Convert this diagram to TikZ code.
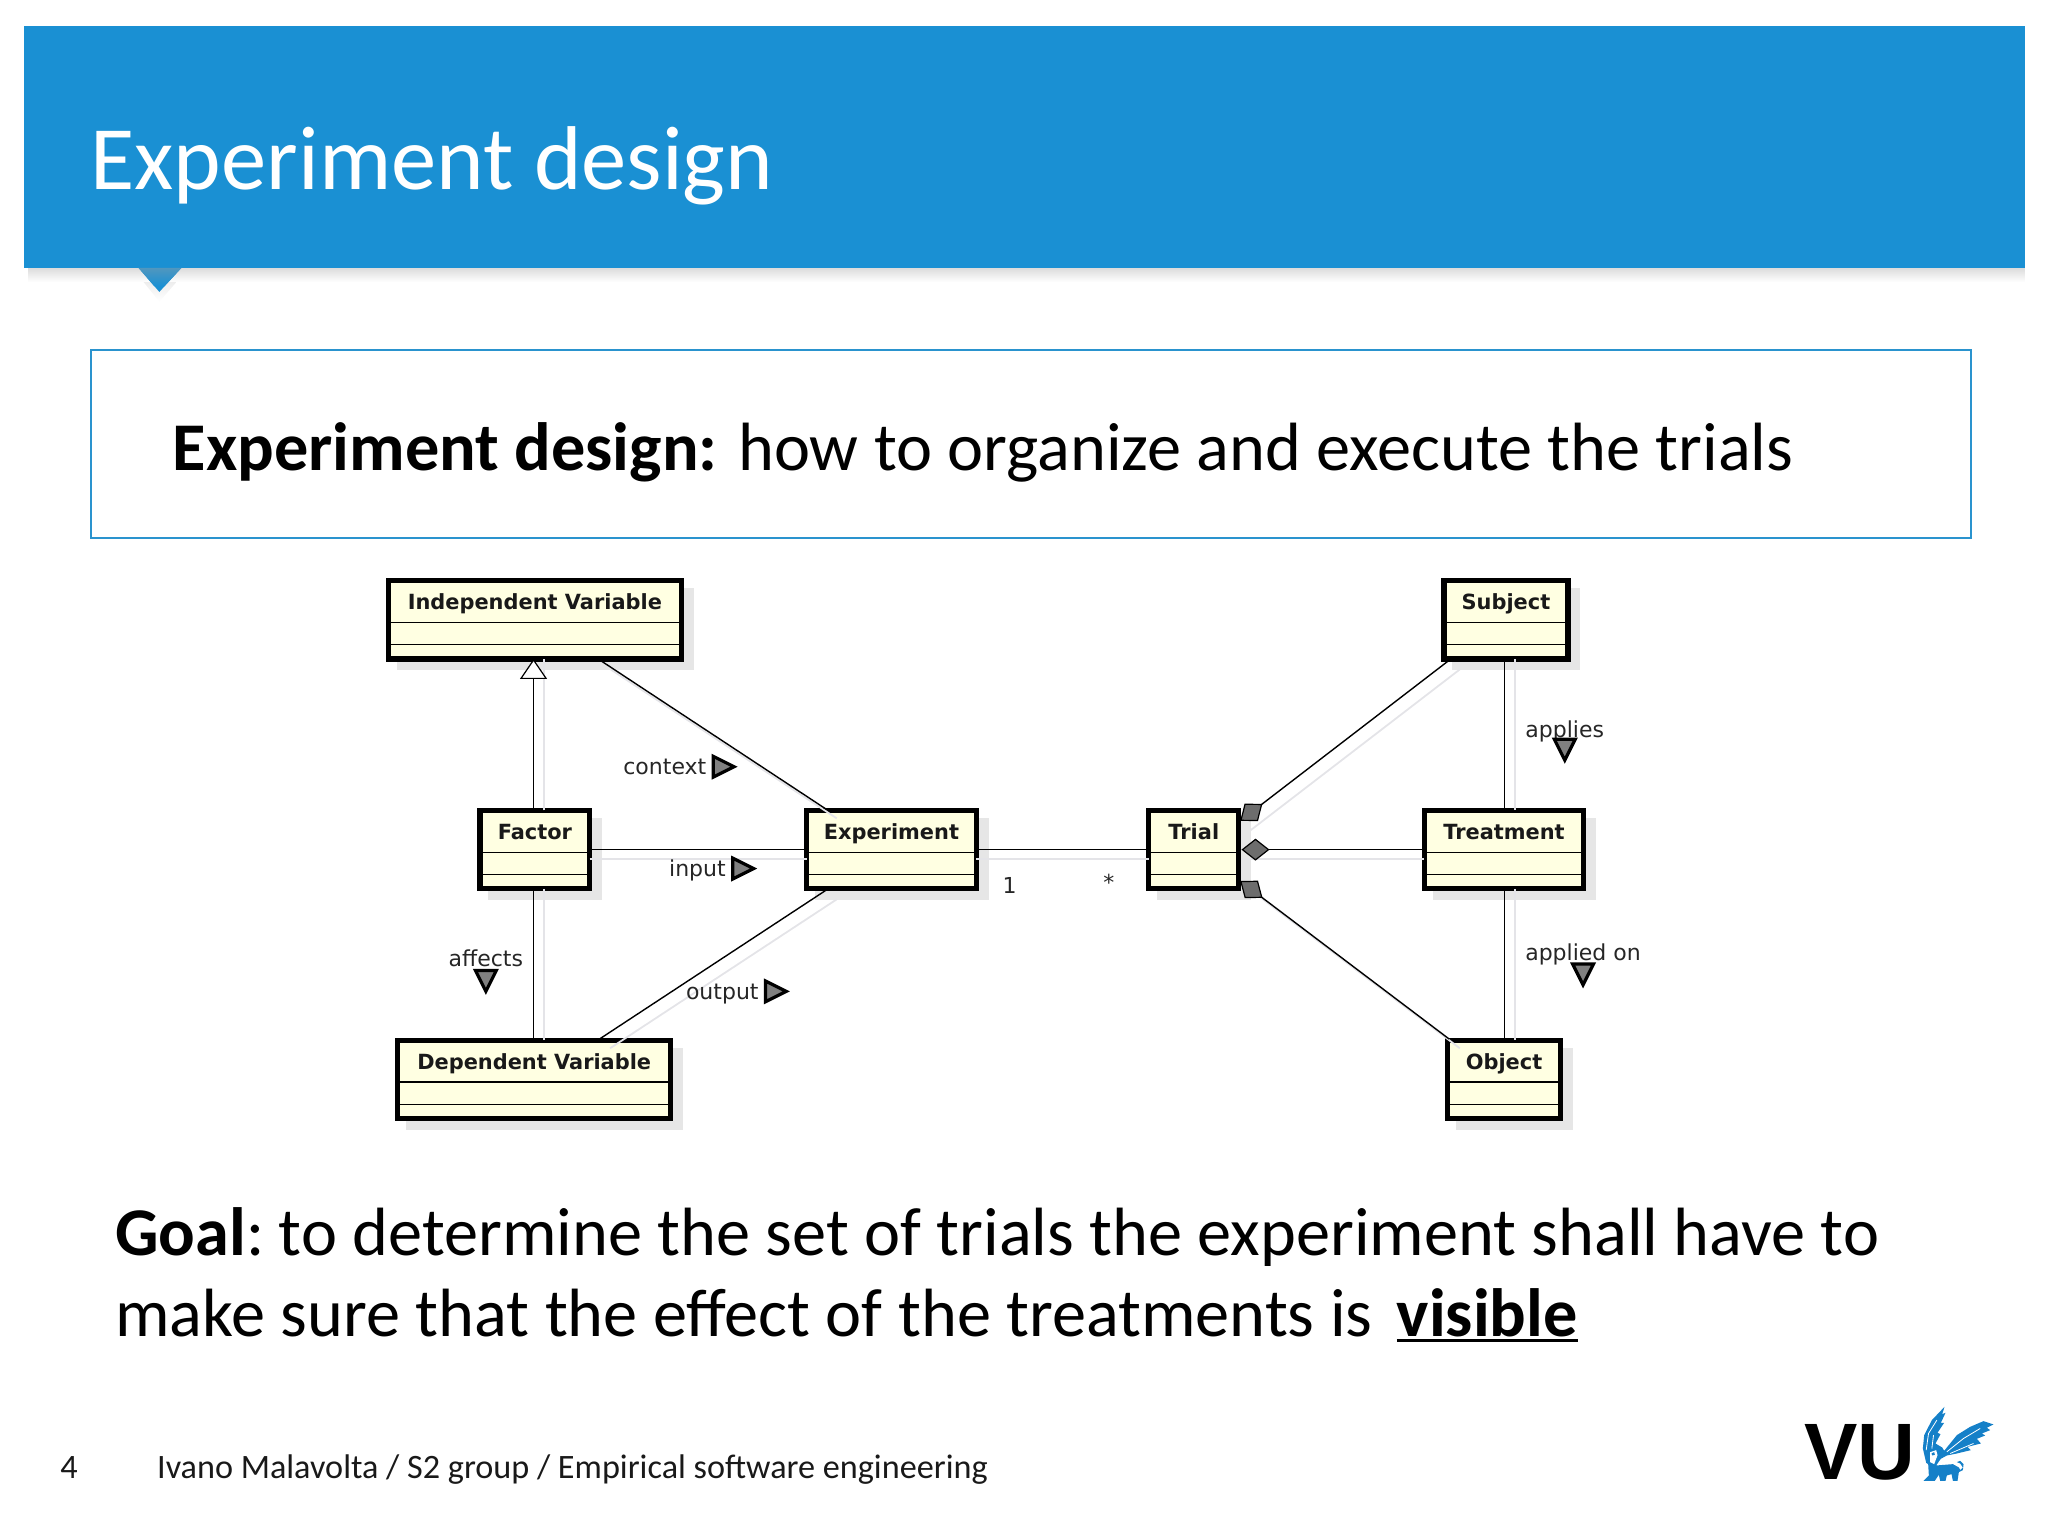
\documentclass[tikz,border=0pt]{standalone}
\usepackage{fontspec}
\setmainfont{Carlito}
\newfontfamily\umlfont{DejaVu Sans}
\newfontfamily\logofont{Liberation Sans}
\usetikzlibrary{calc,arrows.meta}
\definecolor{vublue}{HTML}{1A90D3}
\definecolor{vuedge}{HTML}{2A93CE}
\definecolor{umlfill}{HTML}{FFFFE2}
\definecolor{umlshadow}{HTML}{E6E6E6}
\definecolor{ghost}{HTML}{E4E4E8}
\definecolor{tipgray}{HTML}{808080}
\definecolor{griffin}{HTML}{1580C8}
\newcommand{\thickul}[1]{\setbox0\hbox{#1}\rlap{\rule[-3pt]{\wd0}{1.7pt}}\box0}
\tikzset{
  x=0.65306pt,y=-0.65306pt,
  umlnode/.style={draw=black,fill=umlfill,line width=2.6pt,inner sep=0pt,outer sep=0pt},
  umltitle/.style={font=\umlfont\bfseries\fontsize{10.45}{12}\selectfont,anchor=base,text=black!90,inner sep=0pt},
  umllabel/.style={font=\umlfont\fontsize{11}{13}\selectfont,text=black!85,inner sep=0pt,anchor=base},
  divider/.style={draw=black,line width=0.75pt},
  conn/.style={draw=black,line width=0.7pt,preaction={draw=ghost,line width=0.9pt,-,transform canvas={shift={(5.3pt,-4.6pt)}}}},
  connv/.style={draw=black,line width=0.7pt,preaction={draw=ghost,line width=0.9pt,-,transform canvas={shift={(5.3pt,0pt)}}}},
  connh/.style={draw=black,line width=0.7pt,preaction={draw=ghost,line width=0.9pt,-,transform canvas={shift={(0pt,-4.6pt)}}}},
  tri/.style={draw=black,fill=tipgray,line width=1.6pt,line join=miter},
  slidetext/.style={anchor=base west,inner sep=0pt,font=\fontsize{34.15}{37}\selectfont,text=black},
  aggtip/.style={{Diamond[length=14pt,width=11pt,fill=tipgray!85!black,line width=0.6pt]}-},
}
\newcommand{\umlbox}[6]{%
  \fill[umlshadow] ({#2+8},{#3+7}) rectangle ({#4+8},{#5+7});
  \node[umlnode,minimum width={(#4-#2-3)*0.65306pt},minimum height={(#5-#3-3)*0.65306pt}] (#1) at ({(#2+#4)/2},{(#3+#5)/2}) {};
  \draw[divider] ($(#1.north west)+(0,32)$) -- ($(#1.north east)+(0,32)$);
  \draw[divider] ($(#1.north west)+(0,49)$) -- ($(#1.north east)+(0,49)$);
  \node[umltitle] (#1t) at ({(#2+#4)/2},{#3+24}) {#6};
}
\newcommand{\triright}[2]{\draw[tri] ({#1-8},{#2-8}) -- ({#1+8},{#2}) -- ({#1-8},{#2+8}) -- cycle;}
\newcommand{\tridown}[2]{\draw[tri] ({#1-8},{#2-8}) -- ({#1},{#2+8}) -- ({#1+8},{#2-8}) -- cycle;}
\begin{document}
\begin{tikzpicture}
\useasboundingbox (0,0) rectangle (1568,1176);
% header
\shade[top color=black!14,bottom color=white] (22,205) rectangle (1550,216);
\shade[top color=black!7,bottom color=white] (110,216) -- (135,216) -- (122,231) -- cycle;
\fill[vublue] (18,20) rectangle (1550,205);
\fill[vublue] (106,205) -- (139,205) -- (122,223.5) -- cycle;
\shade[top color=vublue!70!white!85!black,bottom color=vublue] (106,205) -- (139,205) -- (126,219) -- (118,219) -- cycle;
\node[anchor=base west,inner sep=0pt,text=white,font=\fontsize{45.3}{48}\selectfont] (title) at (69,145) {Experiment design};
% definition box
\node[draw=vuedge,line width=1pt,fill=white,minimum width={1439*0.65306pt},minimum height={144*0.65306pt},inner sep=0pt,outer sep=0pt] (defbox) at (789.5,340) {};
\node[slidetext] (deftext) at (132,360) {\textbf{Experiment design:} how to organize and execute the trials};
% uml boxes
\umlbox{iv}{296}{443}{523}{506}{Independent Variable}
\umlbox{subj}{1104}{443}{1202}{506}{Subject}
\umlbox{fac}{366}{619}{453}{682}{Factor}
\umlbox{expm}{616}{619}{749}{682}{Experiment}
\umlbox{trial}{878}{619}{950}{682}{Trial}
\umlbox{treat}{1089}{619}{1214}{682}{Treatment}
\umlbox{dv}{303}{795}{515}{858}{Dependent Variable}
\umlbox{obj}{1107}{795}{1196}{858}{Object}
% connectors
\draw[connv,-{Triangle[open,fill=white,length=10pt,width=13.5pt,line width=0.6pt]}] ($(fac.north)+(-1,0)$) -- ($(iv.south -| fac.north)+(-1,0)$);
\draw[connv] ($(fac.south)+(-1,0)$) -- ($(dv.north -| fac.south)+(-1,0)$);
\draw[conn] ($(iv.south)+(50,1)$) -- ($(expm.north)+(-50,-1)$);
\draw[connh] (fac.east |- fac.center) -- (expm.west |- fac.center);
\draw[connh] (expm.east) -- (trial.west);
\draw[conn] ($(expm.south)+(-50,1)$) -- ($(dv.north)+(50,-1)$);
\draw[connh,aggtip] ($(trial.east)+(2,0)$) -- (treat.west);
\draw[conn,aggtip] ($(trial.north east)+(1,8)$) -- ($(subj.south west)+(4,1)$);
\draw[conn,aggtip] ($(trial.south east)+(1,-6)$) -- ($(obj.north west)+(1,-1)$);
\draw[connv] ($(subj.south)+(-1,0)$) -- ($(treat.north -| subj.south)+(-1,0)$);
\draw[connv] ($(treat.south -| subj.south)+(-1,0)$) -- ($(obj.north -| subj.south)+(-1,0)$);
% association labels
\node[umllabel] (lctx) at (509,593) {context};
\triright{554}{587}
\node[umllabel] (linp) at (534,671) {input};
\triright{569}{665}
\node[umllabel] (lout) at (553,765) {output};
\triright{594}{759}
\node[umllabel] (laff) at (372,740) {affects};
\tridown{372}{751}
\node[umllabel] (lapp) at (1198,565) {applies};
\tridown{1198}{574}
\node[umllabel] (lapo) at (1212,735) {applied on};
\tridown{1212}{746}
\node[umllabel] (lone) at (773,684) {1};
\node[umllabel] (lstar) at (849,682) {*};
% bottom text
\node[slidetext] (goal1) at (88,961) {\textbf{Goal}:\hspace{-3pt} to determine the set of trials the experiment shall have to};
\node[slidetext] (goal2) at (88,1023) {make sure that the effect of the treatments is\hspace{4.5pt} \thickul{\textbf{visible}}};
% footer
\node[anchor=base west,inner sep=0pt,font=\fontsize{17.1}{20}\selectfont,text=black!90] (pnum) at (46,1132) {4};
\node[anchor=base west,inner sep=0pt,font=\fontsize{17.1}{20}\selectfont,text=black!90] (foot) at (120,1132) {Ivano Malavolta / S2 group / Empirical software engineering};
% logo
\node[anchor=base west,inner sep=0pt,font=\logofont\bfseries\fontsize{40}{42}\selectfont,text=black] (vu) at (1381,1133) {VU};
\begin{scope}[shift={(1347.6,1064.3)},x=0.1667pt,y=-0.1667pt]
\fill[griffin] (498,218) -- (488,175) -- (492,135) -- (515,90) -- (553,50) -- (546,72) -- (556,68) -- (542,98) -- (552,98) -- (532,128) -- (541,132) -- (526,160) -- (546,172) -- (552,182) -- (590,135) -- (630,110) -- (670,93) -- (700,103) -- (680,113) -- (690,120) -- (665,130) -- (675,136) -- (650,146) -- (662,160) -- (622,170) -- (632,180) -- (590,190) -- (560,196) -- (542,206) -- (536,214) -- (528,226) -- (578,222) -- (596,232) -- (600,240) -- (608,232) -- (600,220) -- (590,216) -- (600,212) -- (610,222) -- (608,240) -- (596,246) -- (592,272) -- (578,272) -- (574,252) -- (560,256) -- (556,272) -- (540,272) -- (536,254) -- (524,272) -- (490,272) -- (506,256) -- (504,222) -- cycle;
\draw[white,line width=0.4pt] (498,180) -- (505,130) -- (530,90);
\draw[white,line width=0.4pt] (515,175) -- (520,135);
\draw[white,line width=0.4pt] (560,185) -- (610,145) -- (660,115);
\draw[white,line width=0.4pt] (570,190) -- (640,160);
\fill[white] (510,186) -- (528,180) -- (532,195) -- (522,222) -- (510,216) -- cycle;
\fill[griffin] (514,190) -- (522,186) -- (524,194) -- (516,196) -- cycle;
\end{scope}
\end{tikzpicture}
\end{document}
